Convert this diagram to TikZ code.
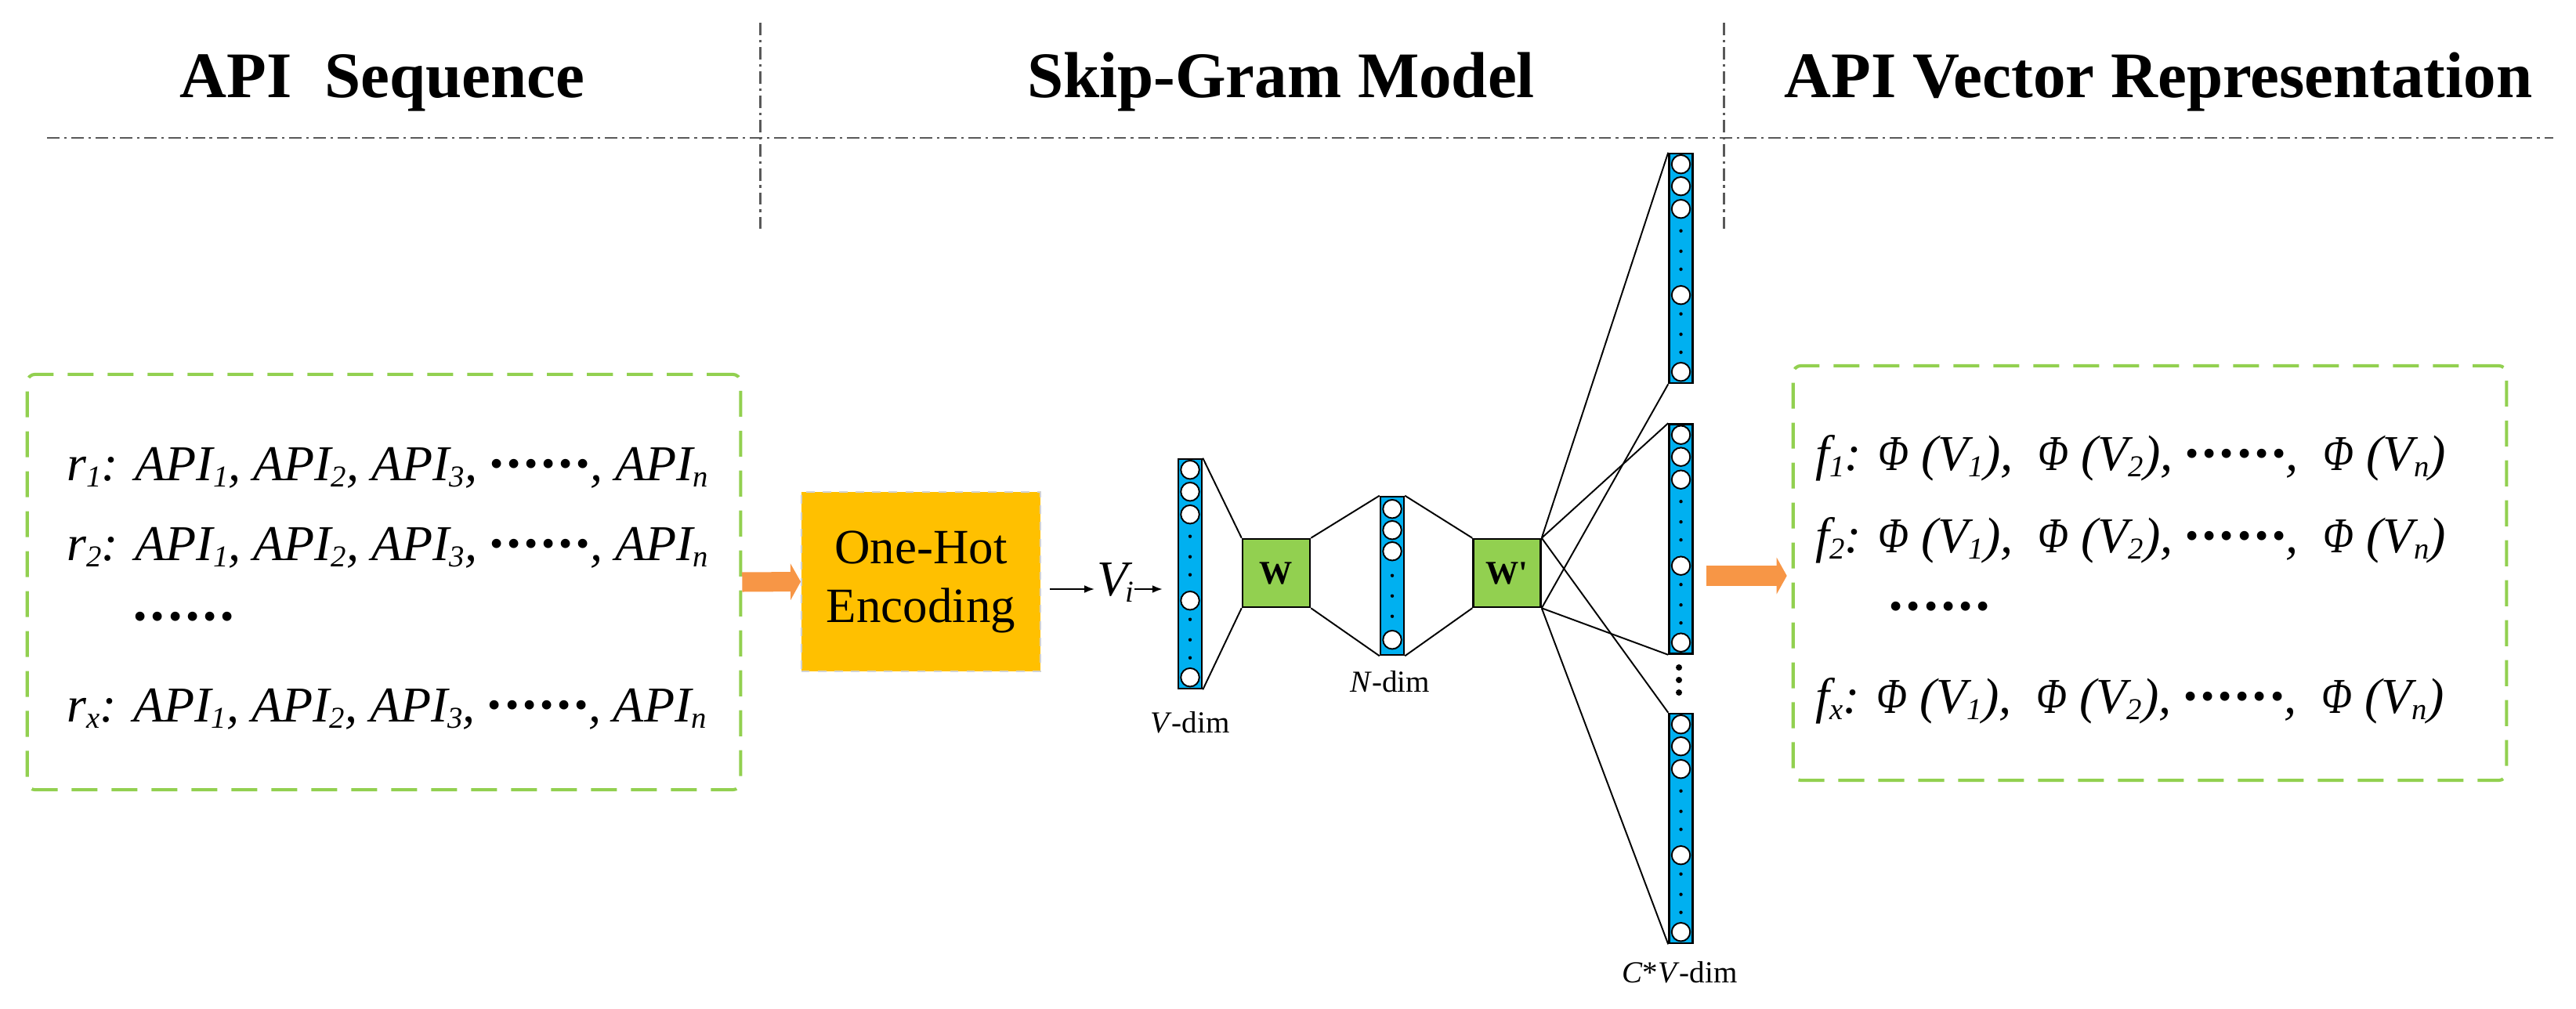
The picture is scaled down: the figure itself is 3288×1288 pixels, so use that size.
\documentclass[tikz,border=0pt]{standalone}
\usepackage{fontspec}
\usepackage{graphicx}
\setmainfont{Liberation Serif}
\usetikzlibrary{arrows.meta,calc}
\definecolor{cgreen}{HTML}{92D050}
\definecolor{cblue}{HTML}{00B0F0}
\definecolor{cyel}{HTML}{FFC000}
\definecolor{corange}{HTML}{F79646}
\definecolor{csep}{HTML}{595959}
\newcommand\sbs[1]{\raisebox{-2.3pt}{\fontsize{11}{11}\selectfont #1}}
\newcommand\onedot{{\fontsize{14}{14}\selectfont •}}
\newcommand\sixdots{\raisebox{1.2pt}{\onedot\kern1.4pt\onedot\kern1.4pt\onedot\kern1.4pt\onedot\kern1.4pt\onedot\kern1.4pt\onedot}}
\newcommand\ph{\scalebox{0.8}[1]{Φ}}
\newcommand\fillcol[1]{%
  \foreach \o in {15,43,72,182,280} \node[neuron] (#1n\o) at ($(#1.north)+(0,\o)$) {};
  \foreach \o in {100,126,149,206,232,255} \fill ($(#1.north)+(0,\o)$) circle[radius=0.022cm];
}
\tikzset{
  sep/.style={draw=csep, line width=0.85pt, dash pattern=on 4.5pt off 1.7pt on 0.9pt off 1.7pt},
  title/.style={font=\bfseries\fontsize{23.6}{28}\selectfont, inner sep=0},
  txt/.style={font=\fontsize{18.2}{22}\selectfont, inner sep=0},
  gbox/.style={draw=cgreen, line width=1.15pt, dash pattern=on 9.4pt off 5.1pt, rounded corners=0.1cm, minimum width=9.10cm, minimum height=5.30cm, inner sep=0},
  colbox/.style={draw=black, line width=0.7pt, fill=cblue, minimum width=0.30cm, inner sep=0},
  neuron/.style={circle, draw=black, fill=white, line width=0.55pt, minimum size=0.235cm, inner sep=0},
  wbox/.style={draw=black, line width=0.7pt, fill=cgreen, minimum width=0.86cm, minimum height=0.87cm, inner sep=0, font=\bfseries\fontsize{12}{14}\selectfont},
  conn/.style={draw=black, line width=0.55pt},
  lab/.style={font=\fontsize{11.1}{13}\selectfont, inner sep=0},
  bigarrow/.style={draw=corange, line width=0.25cm, -{Triangle[length=0.13cm,width=0.46cm]}},
  smallarrow/.style={draw=black, line width=0.6pt, -{Latex[length=0.13cm,width=0.1cm]}}
}
\begin{document}
\begin{tikzpicture}[x=0.01cm, y=-0.01cm]
\useasboundingbox (0,0) rectangle (3288,1288);
% separators
\coordinate (hl) at (60,176); \coordinate (hr) at (3259,176);
\coordinate (v1t) at (970,29); \coordinate (v1b) at (970,292);
\coordinate (v2t) at (2200,29); \coordinate (v2b) at (2200,292);
\draw[sep] (hl) -- (hr);
\draw[sep] (v1t) -- (v1b);
\draw[sep] (v2t) -- (v2b);
% titles
\node[title, anchor=base] (t1) at (488,125) {API\ \ Sequence};
\node[title, anchor=base] (t2) at (1635,125) {Skip-Gram Model};
\node[title, anchor=base] (t3) at (2755,125) {API Vector Representation};
% left box
\node[gbox] (lbox) at (490,743) {};
\node[txt, anchor=base west] (r1) at (85,613) {\textit{r\sbs{1}: API\sbs{1}, API\sbs{2}, API\sbs{3}, }\sixdots\textit{, API\sbs{n}}};
\node[txt, anchor=base west] (r2) at (85,715) {\textit{r\sbs{2}: API\sbs{1}, API\sbs{2}, API\sbs{3}, }\sixdots\textit{, API\sbs{n}}};
\node[txt, anchor=base west] (rd) at (170,808) {\sixdots};
\node[txt, anchor=base west] (rx) at (85,921) {\textit{r\sbs{x}: API\sbs{1}, API\sbs{2}, API\sbs{3}, }\sixdots\textit{, API\sbs{n}}};
% one-hot
\node[draw=gray!35, dashed, line width=0.5pt, fill=cyel, minimum width=3.05cm, minimum height=2.29cm, align=center, inner sep=0, font=\fontsize{17.9}{21.3}\selectfont] (oh) at (1175.5,742.5) {One-Hot\\Encoding};
\draw[bigarrow] (lbox.east) -- (oh.west);
% V_i
\node[txt, anchor=mid west] (vi) at (1400,752) {\textit{V\kern-1pt\sbs{i}}};
% columns
\node[colbox, minimum height=2.93cm] (vcol) at (1519,732.5) {};
\fillcol{vcol}
\node[colbox, minimum height=2.02cm] (ncol) at (1777,735) {};
\foreach \o in {17,44,71,184} \node[neuron] (ncoln\o) at ($(ncol.north)+(0,\o)$) {};
\foreach \o in {102,128,154} \fill ($(ncol.north)+(0,\o)$) circle[radius=0.022cm];
\node[colbox, minimum height=2.93cm] (oc1) at (2145.5,342.5) {};
\fillcol{oc1}
\node[colbox, minimum height=2.93cm] (oc2) at (2145.5,688) {};
\fillcol{oc2}
\node[colbox, minimum height=2.93cm] (oc3) at (2145.5,1057.5) {};
\fillcol{oc3}
\foreach \o in {852,868,884} \fill (2143,\o) circle[radius=0.04cm];
% W boxes
\node[wbox] (w) at (1629,731.5) {W};
\node[wbox] (wp) at (1923.5,731.5) {W\textquotesingle};
% arrows to V
\draw[smallarrow, shorten <=0.11cm, shorten >=0.03cm] (oh.east |- vi.mid west) -- (vi.mid west);
\draw[smallarrow, shorten >=0.19cm] (vi.mid east) -- (vcol.west |- vi.mid east);
% connectors
\draw[conn] (vcol.north east) -- (w.north west);
\draw[conn] (vcol.south east) -- (w.south west);
\draw[conn] (w.north east) -- (ncol.north west);
\draw[conn] (w.south east) -- (ncol.south west);
\draw[conn] (ncol.north east) -- (wp.north west);
\draw[conn] (ncol.south east) -- (wp.south west);
\draw[conn] (wp.north east) -- (oc1.north west);
\draw[conn] (wp.north east) -- (oc2.north west);
\draw[conn] (wp.north east) -- (oc3.north west);
\draw[conn] (wp.south east) -- (oc1.south west);
\draw[conn] (wp.south east) -- (oc2.south west);
\draw[conn] (wp.south east) -- (oc3.south west);
% labels
\node[lab, anchor=base] (vlab) at (1519,935) {\textit{V}-dim};
\node[lab, anchor=base] (nlab) at (1774,883) {\textit{N}-dim};
\node[lab, anchor=base] (clab) at (2144,1254) {\textit{C}*\textit{V}-dim};
% right box
\node[gbox, minimum height=5.29cm] (rbox) at (2744,731.5) {};
\coordinate (ra) at (2178,735);
\draw[bigarrow, shorten >=0.06cm] (ra) -- (ra -| rbox.west);
\node[txt, anchor=base west] (f1) at (2317,600) {\textit{f\sbs{1}: \ph\ (V\sbs{1}),\ \ \ph\ (V\sbs{2}), }\sixdots\textit{,\ \ \ph\ (V\sbs{n})}};
\node[txt, anchor=base west] (f2) at (2317,705) {\textit{f\sbs{2}: \ph\ (V\sbs{1}),\ \ \ph\ (V\sbs{2}), }\sixdots\textit{,\ \ \ph\ (V\sbs{n})}};
\node[txt, anchor=base west] (fd) at (2411,795) {\sixdots};
\node[txt, anchor=base west] (fx) at (2317,910) {\textit{f\sbs{x}: \ph\ (V\sbs{1}),\ \ \ph\ (V\sbs{2}), }\sixdots\textit{,\ \ \ph\ (V\sbs{n})}};
\end{tikzpicture}
\end{document}
